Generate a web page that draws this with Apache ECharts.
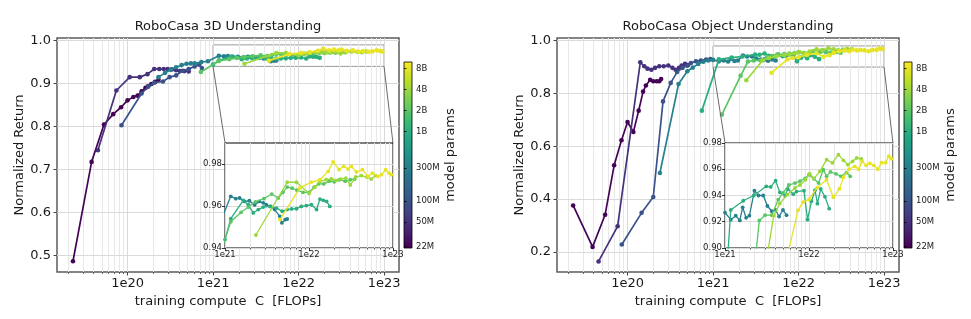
<!DOCTYPE html>
<html><head><meta charset="utf-8">
<script src="https://cdn.jsdelivr.net/npm/echarts@6/dist/echarts.min.js"></script>
<style>html,body{margin:0;padding:0;background:#fff}#c{width:971px;height:319px}</style>
</head><body><div id="c"></div>
<script>
// ---------------- DATA ----------------
const modelSizes = ['22M','50M','100M','300M','1B','2B','4B','8B'];
const modelParams = [22e6,50e6,100e6,300e6,1e9,2e9,4e9,8e9];
const titles = ['RoboCasa 3D Understanding','RoboCasa Object Understanding'];
const xTickValues = [1e20,1e21,1e22,1e23];
const insetXTickValues = [1e21,1e22,1e23];
const leftYTicks = [0.5,0.6,0.7,0.8,0.9,1.0];
const rightYTicks = [0.2,0.4,0.6,0.8,1.0];
const leftInsetYTicks = [0.94,0.96,0.98];
const rightInsetYTicks = [0.90,0.92,0.94,0.96,0.98];

// left panel: [training compute FLOPs, normalized return]
const left22M = [[2.3e19,0.487],[3.8e19,0.718],[5.3e19,0.805],[6.8e19,0.829],[8.4e19,0.845],[1.0e20,0.861],[1.17e20,0.869],[1.31e20,0.872],[1.46e20,0.882],[1.62e20,0.890],[1.74e20,0.894],[1.9e20,0.899],[2.1e20,0.904],[2.3e20,0.909]];
const left50M = [[4.5e19,0.745],[7.4e19,0.884],[1.06e20,0.915],[1.39e20,0.915],[1.71e20,0.922],[2.05e20,0.934],[2.35e20,0.934],[2.65e20,0.934],[2.95e20,0.934],[3.3e20,0.933],[3.7e20,0.931],[4.1e20,0.929],[4.6e20,0.929],[5.2e20,0.928]];
const left100M = [[8.5e19,0.803],[1.46e20,0.877],[1.75e20,0.893],[2.05e20,0.902],[2.6e20,0.905],[3.1e20,0.915],[3.7e20,0.919],[4.4e20,0.930],[5.2e20,0.934],[6.1e20,0.940],[6.9e20,0.944],[7.4e20,0.936]];
const left300M = [[2.3e20,0.915],[2.75e20,0.925],[3.2e20,0.932],[3.7e20,0.938],[4.3e20,0.943],[4.9e20,0.946],[5.5e20,0.947],[6.1e20,0.947],[7.3e20,0.950],[8.7e20,0.952],[1.17e21,0.9646],[1.34e21,0.9635],[1.49e21,0.9638],[1.7e21,0.9622],[1.95e21,0.9625],[2.25e21,0.9605],[2.56e21,0.9622],[2.85e21,0.9615],[3.1e21,0.9606],[3.5e21,0.9598],[3.9e21,0.9583],[4.5e21,0.9551],[4.75e21,0.952],[5.2e21,0.9535],[5.5e21,0.9538]];
const left1B = [[1.0e21,0.944],[1.17e21,0.954],[1.65e21,0.9627],[1.89e21,0.9606],[2.17e21,0.9567],[2.49e21,0.9583],[2.85e21,0.9595],[3.43e21,0.9598],[4.1e21,0.959],[4.8e21,0.9575],[5.5e21,0.9583],[6.2e21,0.9586],[7.1e21,0.9587],[8.1e21,0.9598],[9.3e21,0.9602],[1.07e22,0.9606],[1.23e22,0.9583],[1.35e22,0.9633],[1.48e22,0.9627],[1.62e22,0.9622],[1.77e22,0.9598]];
const left2B = [[7.2e20,0.927],[1.17e21,0.9525],[1.55e21,0.957],[1.9e21,0.9595],[2.3e21,0.962],[2.9e21,0.9635],[3.6e21,0.9657],[4.3e21,0.9638],[4.9e21,0.9665],[5.5e21,0.969],[6.3e21,0.9685],[7.2e21,0.9675],[8.5e21,0.9665],[1.0e22,0.9665],[1.15e22,0.969],[1.3e22,0.9705],[1.5e22,0.9705],[1.75e22,0.9718],[2.0e22,0.9715],[2.3e22,0.9725],[2.7e22,0.9718],[3.1e22,0.9725],[3.5e22,0.9728]];
const left4B = [[2.33e21,0.9462],[5.5e21,0.9713],[7.1e21,0.9713],[1.0e22,0.966],[1.18e22,0.969],[1.35e22,0.9717],[1.6e22,0.9725],[1.85e22,0.9729],[2.1e22,0.9722],[2.4e22,0.9728],[2.75e22,0.9733],[3.1e22,0.970],[3.6e22,0.9738],[4.2e22,0.9745],[4.9e22,0.9738],[5.5e22,0.9728],[6.2e22,0.9745]];
const left8B = [[4.5e21,0.9535],[7.8e21,0.9686],[1.07e22,0.9714],[1.35e22,0.9725],[1.69e22,0.9765],[1.94e22,0.981],[2.28e22,0.9773],[2.59e22,0.9789],[2.92e22,0.9776],[3.2e22,0.9789],[3.67e22,0.9762],[4.32e22,0.9773],[5.05e22,0.9741],[5.68e22,0.9757],[6.6e22,0.9741],[7.3e22,0.9749],[8.2e22,0.9773],[8.96e22,0.9757],[9.55e22,0.9749]];

// right panel
const right22M = [[2.31e19,0.376],[3.9e19,0.219],[5.47e19,0.341],[6.97e19,0.528],[8.5e19,0.623],[1.0e20,0.692],[1.17e20,0.654],[1.35e20,0.735],[1.52e20,0.807],[1.64e20,0.830],[1.84e20,0.852],[2.0e20,0.846],[2.2e20,0.846],[2.35e20,0.846],[2.47e20,0.855]];
const right50M = [[4.58e19,0.164],[7.65e19,0.297],[1.41e20,0.918],[1.57e20,0.903],[1.71e20,0.894],[1.9e20,0.890],[2.1e20,0.897],[2.35e20,0.903],[2.65e20,0.903],[3.0e20,0.906],[3.35e20,0.897],[3.65e20,0.890],[4.0e20,0.897],[4.3e20,0.906],[4.7e20,0.912],[5.1e20,0.908]];
const right100M = [[8.57e19,0.228],[1.46e20,0.348],[2.0e20,0.408],[2.6e20,0.770],[3.2e20,0.840],[3.8e20,0.881],[4.4e20,0.897],[5.0e20,0.905],[5.5e20,0.915],[6.3e20,0.922],[7.2e20,0.925],[8.3e20,0.928],[9.3e20,0.930]];
const right300M = [[2.39e20,0.499],[3.95e20,0.836],[5.0e20,0.884],[5.8e20,0.898],[6.7e20,0.912],[7.7e20,0.920],[8.8e20,0.925],[1.0e21,0.927],[1.17e21,0.9216],[1.34e21,0.9246],[1.5e21,0.921],[1.62e21,0.931],[1.78e21,0.923],[1.95e21,0.9246],[2.24e21,0.9437],[2.5e21,0.940],[2.85e21,0.940],[3.2e21,0.932],[3.6e21,0.928],[4.0e21,0.929],[4.4e21,0.924],[4.9e21,0.929],[5.4e21,0.925]];
const right1B = [[7.4e20,0.735],[1.17e21,0.929],[1.65e21,0.936],[2.2e21,0.940],[3.1e21,0.947],[3.5e21,0.9465],[4.0e21,0.9513],[4.5e21,0.9424],[5.2e21,0.940],[5.6e21,0.945],[6.5e21,0.941],[7.1e21,0.943],[8.7e21,0.9437],[9.6e21,0.9216],[1.07e22,0.9356],[1.18e22,0.944],[1.26e22,0.9338],[1.38e22,0.945],[1.55e22,0.939],[1.74e22,0.930]];
const right2B = [[1.27e21,0.72],[2.1e21,0.867],[2.56e21,0.921],[3.0e21,0.925],[3.6e21,0.925],[4.3e21,0.9368],[4.9e21,0.942],[5.75e21,0.948],[6.8e21,0.9495],[7.8e21,0.951],[9.0e21,0.953],[1.0e22,0.9559],[1.15e22,0.9526],[1.3e22,0.9495],[1.48e22,0.9597],[1.62e22,0.9546],[1.8e22,0.958],[2.1e22,0.9565],[2.4e22,0.9546],[2.8e22,0.9575],[3.1e22,0.9546]];
const right4B = [[2.45e21,0.85],[3.8e21,0.9246],[4.5e21,0.934],[5.5e21,0.9406],[6.8e21,0.9457],[7.8e21,0.948],[9.1e21,0.952],[1.02e22,0.9566],[1.15e22,0.953],[1.35e22,0.9584],[1.62e22,0.9673],[1.9e22,0.9648],[2.24e22,0.9711],[2.57e22,0.9668],[2.9e22,0.9635],[3.3e22,0.966],[3.7e22,0.9686],[4.2e22,0.9678]];
const right8B = [[4.83e21,0.878],[7.4e21,0.9287],[8.5e21,0.935],[1.0e22,0.937],[1.25e22,0.946],[1.62e22,0.952],[1.95e22,0.9386],[2.3e22,0.945],[2.57e22,0.9538],[3.0e22,0.960],[3.5e22,0.9622],[3.9e22,0.960],[4.3e22,0.966],[4.8e22,0.963],[5.3e22,0.9645],[5.9e22,0.963],[6.6e22,0.960],[7.3e22,0.965],[8.2e22,0.965],[8.9e22,0.970],[9.6e22,0.968]];

const panelData = [
  [left22M,left50M,left100M,left300M,left1B,left2B,left4B,left8B],
  [right22M,right50M,right100M,right300M,right1B,right2B,right4B,right8B]
];

// ---------------- STYLE / LAYOUT ----------------
const FONT = 'DejaVu Sans', TXT = '#1a1a1a';
const MAJOR = '#dadada', MINOR = '#e8e8e8';
const X_MIN = Math.pow(10, 19.175), X_MAX = Math.pow(10, 23.175);
const IN_X_MIN = Math.pow(10, 20.9995), IN_X_MAX = Math.pow(10, 23.0005);
const CB_MIN = 21e6, CB_MAX = 1e10;
const PANELS = [
  {main:{left:57,top:38,width:342,height:234}, inset:{left:225,top:143,width:168,height:105},
   cb:{left:404,top:62,width:8,height:186}, titleX:228, yRange:[0.462,1.006], yTicks:leftYTicks,
   insetY:[0.94,0.99], insetYTicks:leftInsetYTicks},
  {main:{left:557,top:38,width:342,height:234}, inset:{left:725,top:143,width:168,height:105},
   cb:{left:904,top:62,width:8,height:186}, titleX:728, yRange:[0.124,1.010], yTicks:rightYTicks,
   insetY:[0.90,0.98], insetYTicks:rightInsetYTicks}
];

const VIRIDIS = ['#440154','#482475','#414487','#355f8d','#2a788e','#21918c','#22a884','#44bf70','#7ad151','#bddf26','#fde725'];
function hexToRgb(h){return [parseInt(h.slice(1,3),16),parseInt(h.slice(3,5),16),parseInt(h.slice(5,7),16)];}
function viridis(t){t=Math.max(0,Math.min(1,t));const s=t*10;const i=Math.min(9,Math.floor(s));const f=s-i;
  const a=hexToRgb(VIRIDIS[i]),b=hexToRgb(VIRIDIS[i+1]);return 'rgb('+a.map((v,k)=>Math.round(v+(b[k]-v)*f)).join(',')+')';}
function sizeColor(p){return viridis((Math.log10(p)-Math.log10(CB_MIN))/(Math.log10(CB_MAX)-Math.log10(CB_MIN)));}
function minorValues(lo, hi){const out=[];for(let n=Math.floor(Math.log10(lo));n<=Math.ceil(Math.log10(hi));n++){for(let k=2;k<=9;k++){const v=k*Math.pow(10,n);if(v>lo*1.0001&&v<hi*0.9999)out.push(v);}}return out;}
function fmtE(v){const l=Math.log10(v);return Math.abs(l-Math.round(l))<1e-3?('1e'+Math.round(l)):'';}

const grids=[], xAxes=[], yAxes=[], series=[], graphics=[];

PANELS.forEach((P, p) => {
  const gMain = grids.length, gInset = gMain+1, gCb = gMain+2;
  grids.push(Object.assign({show:true, backgroundColor:'#fff', borderColor:'#5c5c5c', borderWidth:1.5, z:0, containLabel:false, outerBoundsMode:'none'}, P.main));
  grids.push(Object.assign({show:true, backgroundColor:'#fff', borderColor:'#000', borderWidth:1, z:10, containLabel:false, outerBoundsMode:'none'}, P.inset));
  grids.push(Object.assign({show:true, borderColor:'#000', borderWidth:0.8, z:0, containLabel:false, outerBoundsMode:'none',
    backgroundColor:{type:'linear',x:0,y:1,x2:0,y2:0,colorStops:VIRIDIS.map((c,i)=>({offset:i/10,color:c}))}}, P.cb));

  const xMainMinor = minorValues(X_MIN, X_MAX);
  const xInsetMinor = minorValues(1e21, 1e23);
  const xi0 = xAxes.length;
  xAxes.push({type:'log', gridIndex:gMain, position:'bottom', min:X_MIN, max:X_MAX, z:1,
    axisLine:{show:false}, splitLine:{show:false},
    axisTick:{show:true, inside:false, length:3.5, customValues:xTickValues, lineStyle:{color:'#444', width:1}},
    axisLabel:{show:true, customValues:xTickValues, formatter:fmtE, fontSize:13, color:TXT, fontFamily:FONT, margin:5, showMinLabel:true, showMaxLabel:true, hideOverlap:false},
    name:'training compute  C  [FLOPs]', nameLocation:'middle', nameGap:19,
    nameTextStyle:{fontSize:13, color:TXT, fontFamily:FONT}});
  xAxes.push({type:'log', gridIndex:gMain, position:'bottom', min:X_MIN, max:X_MAX, z:1,
    axisLine:{show:false}, splitLine:{show:false}, axisLabel:{show:false},
    axisTick:{show:true, inside:false, length:2, customValues:xMainMinor, lineStyle:{color:'#444', width:0.8}}});
  xAxes.push({type:'log', gridIndex:gInset, position:'bottom', min:IN_X_MIN, max:IN_X_MAX, z:12,
    axisLine:{show:false}, splitLine:{show:false},
    axisTick:{show:true, inside:false, length:3, customValues:insetXTickValues, lineStyle:{color:'#000', width:0.8}},
    axisLabel:{show:true, customValues:insetXTickValues, formatter:fmtE, fontSize:8.5, color:TXT, fontFamily:FONT, margin:2, showMinLabel:true, showMaxLabel:true, hideOverlap:false}});
  xAxes.push({type:'log', gridIndex:gInset, position:'bottom', min:IN_X_MIN, max:IN_X_MAX, z:12,
    axisLine:{show:false}, splitLine:{show:false}, axisLabel:{show:false},
    axisTick:{show:true, inside:false, length:1.6, customValues:xInsetMinor, lineStyle:{color:'#000', width:0.6}}});
  xAxes.push({type:'value', gridIndex:gCb, min:0, max:1, show:false});

  const yi0 = yAxes.length;
  yAxes.push({type:'value', gridIndex:gMain, min:P.yRange[0], max:P.yRange[1], z:1,
    axisLine:{show:false}, splitLine:{show:false},
    axisTick:{show:true, inside:false, length:3.5, customValues:P.yTicks, lineStyle:{color:'#444', width:1}},
    axisLabel:{customValues:P.yTicks, formatter:v=>v.toFixed(1), fontSize:13, color:TXT, fontFamily:FONT, margin:6, showMinLabel:true, showMaxLabel:true},
    name:'Normalized Return', nameLocation:'middle', nameGap:30, nameTextStyle:{fontSize:13, color:TXT, fontFamily:FONT}});
  yAxes.push({type:'value', gridIndex:gInset, min:P.insetY[0], max:P.insetY[1], z:12,
    axisLine:{show:false}, splitLine:{show:false},
    axisTick:{show:true, inside:false, length:3, customValues:P.insetYTicks, lineStyle:{color:'#000', width:0.8}},
    axisLabel:{customValues:P.insetYTicks, formatter:v=>v.toFixed(2), fontSize:8.5, color:TXT, fontFamily:FONT, margin:3, showMinLabel:true, showMaxLabel:true}});
  yAxes.push({type:'log', gridIndex:gCb, position:'right', min:CB_MIN, max:CB_MAX, z:1,
    axisLine:{show:false}, splitLine:{show:false},
    axisTick:{show:true, inside:false, length:2.5, customValues:modelParams, lineStyle:{color:'#000', width:0.8}},
    axisLabel:{customValues:modelParams, fontSize:8.5, color:TXT, fontFamily:FONT, margin:4, showMinLabel:true, showMaxLabel:true,
      formatter:v=>{const i=modelParams.findIndex(q=>Math.abs(Math.log10(q)-Math.log10(v))<0.01);return i>=0?modelSizes[i]:'';}},
    name:'model params', nameLocation:'middle', nameRotate:90, nameGap:32, nameTextStyle:{fontSize:13, color:TXT, fontFamily:FONT}});

  const mainLines=[];
  xMainMinor.forEach(v=>mainLines.push({xAxis:v, lineStyle:{color:MINOR,width:1,type:'solid'}}));
  xTickValues.forEach(v=>mainLines.push({xAxis:v, lineStyle:{color:MAJOR,width:1,type:'solid'}}));
  P.yTicks.forEach(v=>mainLines.push({yAxis:v, lineStyle:{color:MAJOR,width:1,type:'solid'}}));
  series.push({type:'line', data:[], xAxisIndex:xi0, yAxisIndex:yi0, z:1, silent:true,
    markLine:{silent:true, symbol:['none','none'], label:{show:false}, z:1, animation:false, emphasis:{disabled:true}, data:mainLines},
    markArea:{silent:true, z:1, itemStyle:{color:'rgba(0,0,0,0)', borderColor:'#9a9a9a', borderWidth:1},
      data:[[{xAxis:1e21, yAxis:P.insetY[0]},{xAxis:1e23, yAxis:P.insetY[1]}]]}});
  const insetLines=[];
  xInsetMinor.forEach(v=>insetLines.push({xAxis:v, lineStyle:{color:MINOR,width:1,type:'solid'}}));
  insetXTickValues.forEach(v=>insetLines.push({xAxis:v, lineStyle:{color:MAJOR,width:1,type:'solid'}}));
  P.insetYTicks.forEach(v=>insetLines.push({yAxis:v, lineStyle:{color:MAJOR,width:1,type:'solid'}}));
  series.push({type:'line', data:[], xAxisIndex:xi0+2, yAxisIndex:yi0+1, z:11, silent:true,
    markLine:{silent:true, symbol:['none','none'], label:{show:false}, z:11, animation:false, emphasis:{disabled:true}, data:insetLines}});

  panelData[p].forEach((d, k) => {
    const col = sizeColor(modelParams[k]);
    series.push({type:'line', name:modelSizes[k], data:d, xAxisIndex:xi0, yAxisIndex:yi0, z:3+k*0.01,
      symbol:'circle', symbolSize:4.6, showSymbol:true, lineStyle:{color:col,width:1.7}, itemStyle:{color:col},
      emphasis:{disabled:true}, silent:true, clip:true});
    series.push({type:'line', name:modelSizes[k]+' inset', data:d, xAxisIndex:xi0+2, yAxisIndex:yi0+1, z:13+k*0.01,
      symbol:'circle', symbolSize:3.8, showSymbol:true, lineStyle:{color:col,width:1.3}, itemStyle:{color:col},
      emphasis:{disabled:true}, silent:true, clip:true});
  });

  graphics.push({type:'text', id:'title'+p, x:P.titleX, y:27, z:20,
    style:{text:titles[p], align:'center', verticalAlign:'middle', fontSize:13, fontFamily:FONT, fill:TXT}});
});

const chart = echarts.init(document.getElementById('c'), null, {renderer:'canvas'});
chart.setOption({
  animation:false,
  backgroundColor:'#fff',
  textStyle:{fontFamily:FONT},
  grid:grids, xAxis:xAxes, yAxis:yAxes, series:series, graphic:graphics
});

const conn=[];
PANELS.forEach((P,p)=>{
  const xiMain = p*5, yiMain = p*3, xiIn = p*5+2, yiIn = p*3+1;
  const a1 = chart.convertToPixel({xAxisIndex:xiMain, yAxisIndex:yiMain}, [1e21, P.insetY[0]]);
  const a2 = chart.convertToPixel({xAxisIndex:xiMain, yAxisIndex:yiMain}, [1e23, P.insetY[0]]);
  const b1 = chart.convertToPixel({xAxisIndex:xiIn, yAxisIndex:yiIn}, [1e21, P.insetY[1]]);
  const b2 = chart.convertToPixel({xAxisIndex:xiIn, yAxisIndex:yiIn}, [1e23, P.insetY[1]]);
  [[a1,b1],[a2,b2]].forEach((pr,i)=>{
    if(pr[0]&&pr[1]) conn.push({type:'line', id:'conn'+p+'_'+i, z:5, silent:true,
      shape:{x1:pr[0][0],y1:pr[0][1],x2:pr[1][0],y2:pr[1][1]}, style:{stroke:'#6a6a6a', lineWidth:1}});
  });
});
chart.setOption({graphic: graphics.concat(conn)});
</script></body></html>
